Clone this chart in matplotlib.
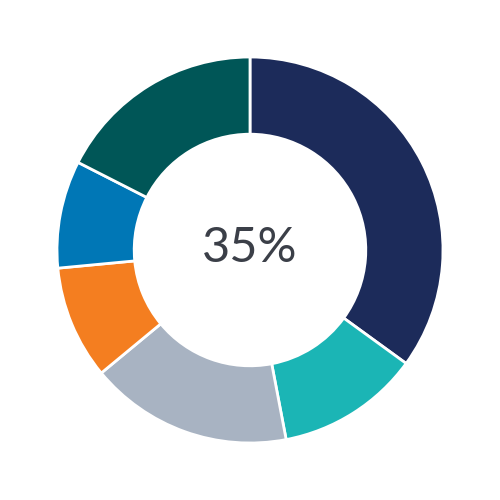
import matplotlib
matplotlib.use("Agg")
import matplotlib.pyplot as plt

# slice shares, clockwise from 12 o'clock
labels = ["Navy", "Teal", "Grey", "Orange", "Blue", "Dark teal"]
shares = [35, 12, 17, 9.5, 9, 17.5]
colors = ["#1c2b5a", "#1bb5b5", "#a8b3c2", "#f47e20", "#0077b6", "#005657"]
center_label = "35%"

fig = plt.figure(figsize=(5, 5), dpi=100)
ax = fig.add_axes([0, 0, 1, 1])

outer_r = 193 / 250
ax.pie(shares, colors=colors, startangle=90, counterclock=False,
       radius=outer_r,
       wedgeprops=dict(width=outer_r * 0.40, edgecolor="white", linewidth=2))

ax.text(0, 0.01, center_label, ha="center", va="center",
        fontsize=35, color="#3b3f48", family=["Lato", "DejaVu Sans"])

ax.set_xlim(-1, 1)
ax.set_ylim(-1, 1)
ax.set_aspect("equal")
ax.axis("off")

fig.savefig("out.png", dpi=100, facecolor="white")
